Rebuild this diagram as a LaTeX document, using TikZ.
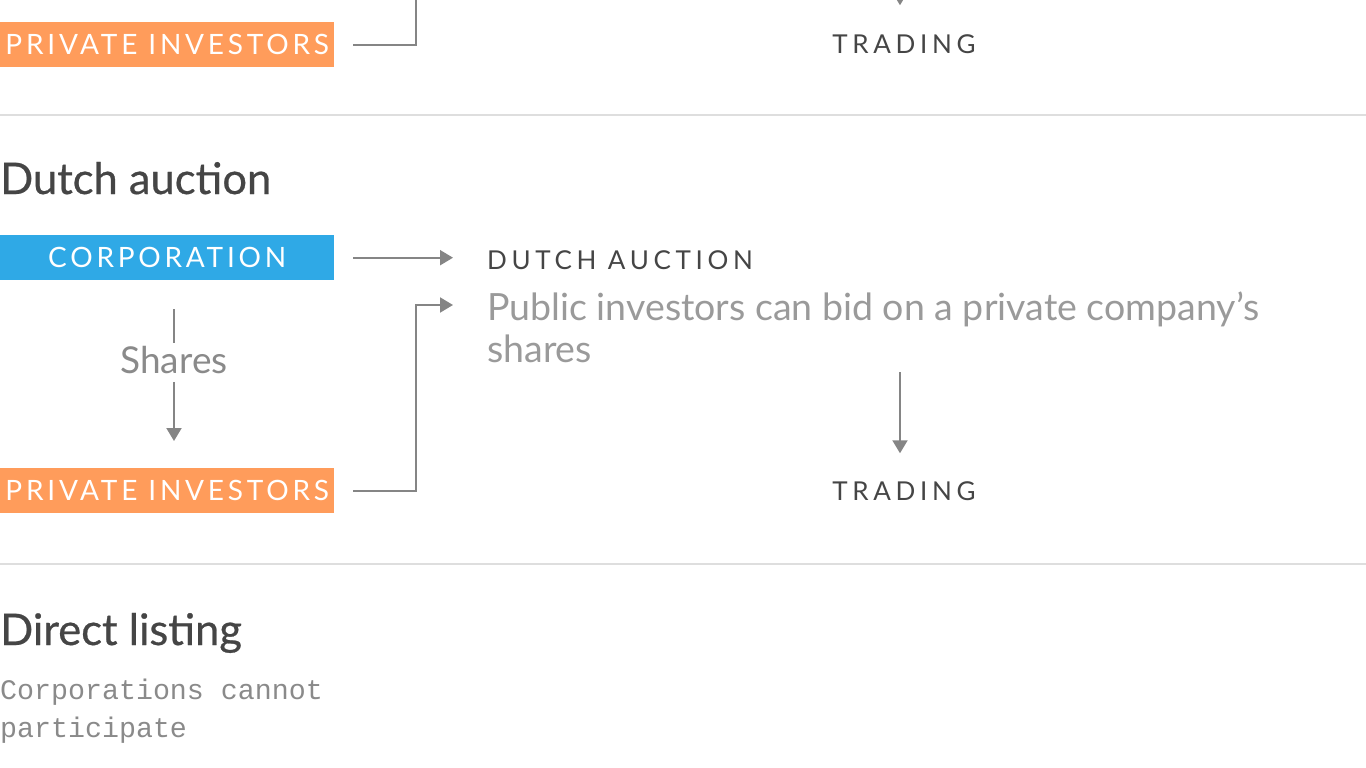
\documentclass[tikz,border=0pt]{standalone}
\usepackage{fontspec}
\setmainfont{Lato}
\setmonofont{Liberation Mono}
\newfontfamily\boxfont[LetterSpace=13.5]{Lato}
\newfontfamily\lblfont[LetterSpace=18]{Lato}
\newfontfamily\headfont[FakeBold=0.6]{Lato}
\usetikzlibrary{arrows.meta}
\definecolor{orng}{HTML}{FF9C5B}
\definecolor{blu}{HTML}{2FA9E6}
\definecolor{dark}{HTML}{454545}
\definecolor{conn}{HTML}{858585}
\definecolor{sepc}{HTML}{DEDEDE}
\definecolor{descc}{HTML}{9A9A9A}
\definecolor{monoc}{HTML}{8A8A8A}
\tikzset{
  boxn/.style={minimum width=334pt, minimum height=45pt, inner sep=0pt, anchor=north west,
    text=white, font=\boxfont\fontsize{28}{28}\selectfont},
  lbl/.style={inner sep=0pt, text=dark, font=\lblfont\fontsize{26}{26}\selectfont},
  head/.style={inner sep=0pt, anchor=base west, text=dark, font=\headfont\fontsize{43.5}{43.5}\selectfont},
  descn/.style={inner sep=0pt, anchor=base west, align=left, text=descc, font=\fontsize{37.5}{42}\selectfont},
  sharen/.style={inner sep=0pt, text=monoc, font=\fontsize{37}{37}\selectfont},
  monon/.style={inner sep=0pt, anchor=base west, align=left, text=monoc, font=\ttfamily\fontsize{28.3}{38}\selectfont},
  line/.style={draw=conn, line width=2pt},
  arr/.style={line, -{Triangle[length=13pt,width=15pt]}},
  sepl/.style={draw=sepc, line width=2pt}
}
\begin{document}
\begin{tikzpicture}[x=1pt,y=-1pt]
\useasboundingbox (0,0) rectangle (1366,768);
% top section (partial)
\node[boxn, fill=orng] (pi1) at (0,22) {PRIVATE INVESTORS};
\coordinate (t1) at (416,-3);
\draw[line, shorten <=19pt] (pi1.east) -| (t1);
\node[lbl] (trd1) at (904,44) {TRADING};
\coordinate (a1) at (900,-30);
\draw[arr, shorten >=29pt] (a1) -- (a1 |- trd1.north);
\draw[sepl] (0,115) -- (1366,115);
% Dutch auction
\node[head] (h1) at (0,194) {Dutch auction};
\node[boxn, fill=blu] (corp) at (0,235) {CORPORATION};
\node[boxn, fill=orng] (pi2) at (0,468) {PRIVATE INVESTORS};
\node[lbl, anchor=west] (da) at (487,260) {DUTCH AUCTION};
\node[descn] (desc) at (487,362) {Public investors can bid on a private company’s\\shares};
\draw[arr, shorten <=19pt, shorten >=34pt] (corp.east) -- (corp.east -| da.west);
\coordinate (j2) at (416,305);
\coordinate (e2) at (453,305);
\draw[arr, shorten <=19pt] (pi2.east) -- (pi2.east -| j2) -- (j2) -- (e2);
\node[sharen] (sh) at (174,360) {Shares};
\coordinate (s1) at (174,309);
\coordinate (s2) at (174,441);
\draw[line] (s1) -- ([yshift=3pt]s1 |- sh.north) ;
\draw[arr, shorten <=8pt] (s2 |- sh.south) -- (s2);
\node[lbl] (trd2) at (904,491) {TRADING};
\coordinate (a2) at (900,372);
\draw[arr, shorten >=28pt] (a2) -- (a2 |- trd2.north);
\draw[sepl] (0,564) -- (1366,564);
% Direct listing
\node[head] (h2) at (0,645) {Direct listing};
\node[monon] (mono) at (0,737) {Corporations cannot\\participate};
\end{tikzpicture}
\end{document}
